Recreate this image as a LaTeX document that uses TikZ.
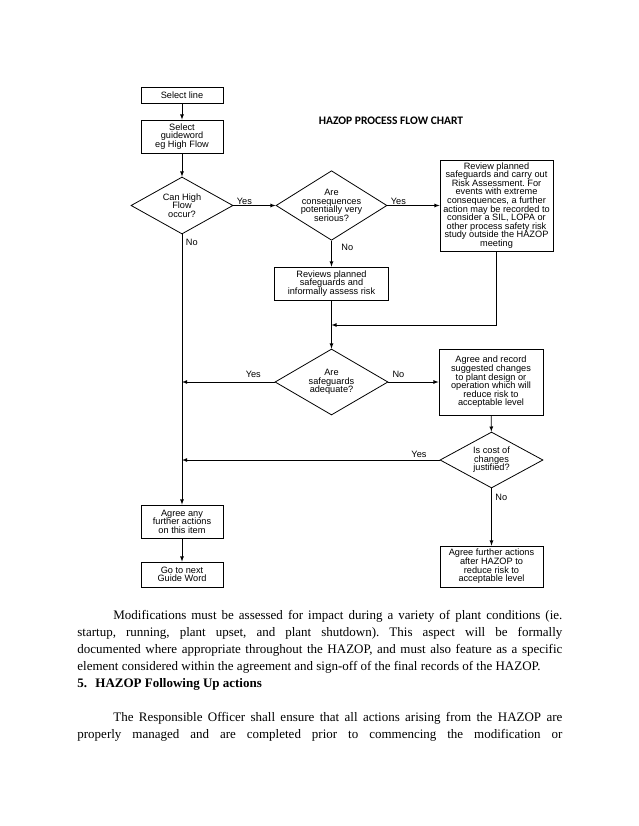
\documentclass[tikz,border=0pt]{standalone}
\usepackage{fontspec}
\setmainfont{Liberation Serif}
\newfontfamily\chartfont{Liberation Sans}
\newfontfamily\headfont{Carlito}
\usetikzlibrary{shapes.geometric}
\frenchspacing

\tikzset{
  chart/.style={font=\chartfont\fontsize{9.2}{8.6}\selectfont},
  box/.style={chart, draw, align=center, inner sep=0pt},
  dia/.style={chart, diamond, draw, align=center, inner sep=-6pt},
  lbl/.style={chart, inner sep=0.5pt},
  body/.style={font=\fontsize{13}{17}\selectfont, inner sep=0pt, anchor=base west},
}

\begin{document}
\begin{tikzpicture}[x=1pt, y=-1pt, >=latex, line width=0.8pt]
\fill[white] (0,0) rectangle (638,826);
\useasboundingbox (0,0) rectangle (638,826);

\node (title) at (391,121) [font=\headfont\bfseries\fontsize{11.5}{13}\selectfont] {HAZOP PROCESS FLOW CHART};

% left column
\node (sel)      at (182,95)    [box, minimum width=82pt, minimum height=16pt] {Select line};
\node (guide)    at (182,136.5) [box, minimum width=82pt, minimum height=33pt] {Select\\guideword\\eg High Flow};
\node (d1)       at (182,205.5) [dia, minimum width=102pt, minimum height=57pt] {Can High\\Flow\\occur?};
\node (agreeany) at (182,521.5) [box, minimum width=82pt, minimum height=33pt] {Agree any\\further actions\\on this item};
\node (gonext)   at (182,574.5) [box, minimum width=82pt, minimum height=25pt] {Go to next\\Guide Word};

% middle column
\node (d2)      at (331.5,205.5) [dia, minimum width=111pt, minimum height=57pt] {Are\\consequences\\potentially very\\serious?};
\node (reviews) at (331.5,283.5) [box, minimum width=114pt, minimum height=33pt] {Reviews planned\\safeguards and\\informally assess risk};
\node (d3)      at (331.5,382)   [dia, minimum width=113pt, minimum height=66pt] {Are\\safeguards\\adequate?};

% right column
\node (review)       at (496.5,205.5) [box, minimum width=113pt, minimum height=91pt] {Review planned\\safeguards and carry out\\Risk Assessment. For\\events with extreme\\consequences, a further\\action may be recorded to\\consider a SIL, LOPA or\\other process safety risk\\study outside the HAZOP\\meeting};
\node (agreerec)     at (491,382)     [box, minimum width=104pt, minimum height=66pt] {Agree and record\\suggested changes\\to plant design or\\operation which will\\reduce risk to\\acceptable level};
\node (d4)           at (491.5,460)   [dia, minimum width=103pt, minimum height=56pt] {Is cost of\\changes\\justified?};
\node (agreefurther) at (491.5,566.5) [box, minimum width=103pt, minimum height=41pt] {Agree further actions\\after HAZOP to\\reduce risk to\\acceptable level};

\coordinate (merge) at (331.5,325);
\coordinate (yes3)  at (182,382);
\coordinate (yes4)  at (182,460);

% connectors
\draw[->] (sel) -- (guide);
\draw[->] (guide) -- (d1);
\draw[->] (d1) -- node[lbl, above, pos=0.26] {Yes} (d2);
\draw[->] (d2) -- node[lbl, above, pos=0.21] {Yes} (review);
\draw[->] (d2) -- node[lbl, right=9pt, pos=0.24] {No} (reviews);
\draw[->] (d1) -- node[lbl, right=3pt, pos=0.03] {No} (agreeany);
\draw[->] (reviews) -- (d3);
\draw[->] (review) |- (merge);
\draw[->] (d3) -- node[lbl, above=4pt, pos=0.23] {Yes} (yes3);
\draw[->] (d3) -- node[lbl, above=4pt, pos=0.2] {No} (agreerec);
\draw[->] (agreerec) -- (d4);
\draw[->] (d4) -- node[lbl, above=1.5pt, pos=0.08] {Yes} (yes4);
\draw[->] (d4) -- node[lbl, right=3pt, pos=0.15] {No} (agreefurther);
\draw[->] (agreeany) -- (gonext);

% text below the chart
\node (p1a) at (113,619) [body] {\makebox[449pt][s]{Modifications must be assessed for impact during a variety of plant conditions (ie.}};
\node (p1b) at (77,636)  [body] {\makebox[485pt][s]{startup, running, plant upset, and plant shutdown). This aspect will be formally}};
\node (p1c) at (77,653)  [body] {\makebox[485pt][s]{documented where appropriate throughout the HAZOP, and must also feature as a specific}};
\node (p1d) at (77,670)  [body] {element considered within the agreement and sign-off of the final records of the HAZOP.};
\node (head) at (77,687) [body, font=\fontsize{13}{17}\selectfont\bfseries] {\makebox[18pt][l]{5.}HAZOP Following Up actions};
\node (p2a) at (113,721) [body] {\makebox[449pt][s]{The Responsible Officer shall ensure that all actions arising from the HAZOP are}};
\node (p2b) at (77,738)  [body] {\makebox[485pt][s]{properly managed and are completed prior to commencing the modification or}};
\end{tikzpicture}
\end{document}
